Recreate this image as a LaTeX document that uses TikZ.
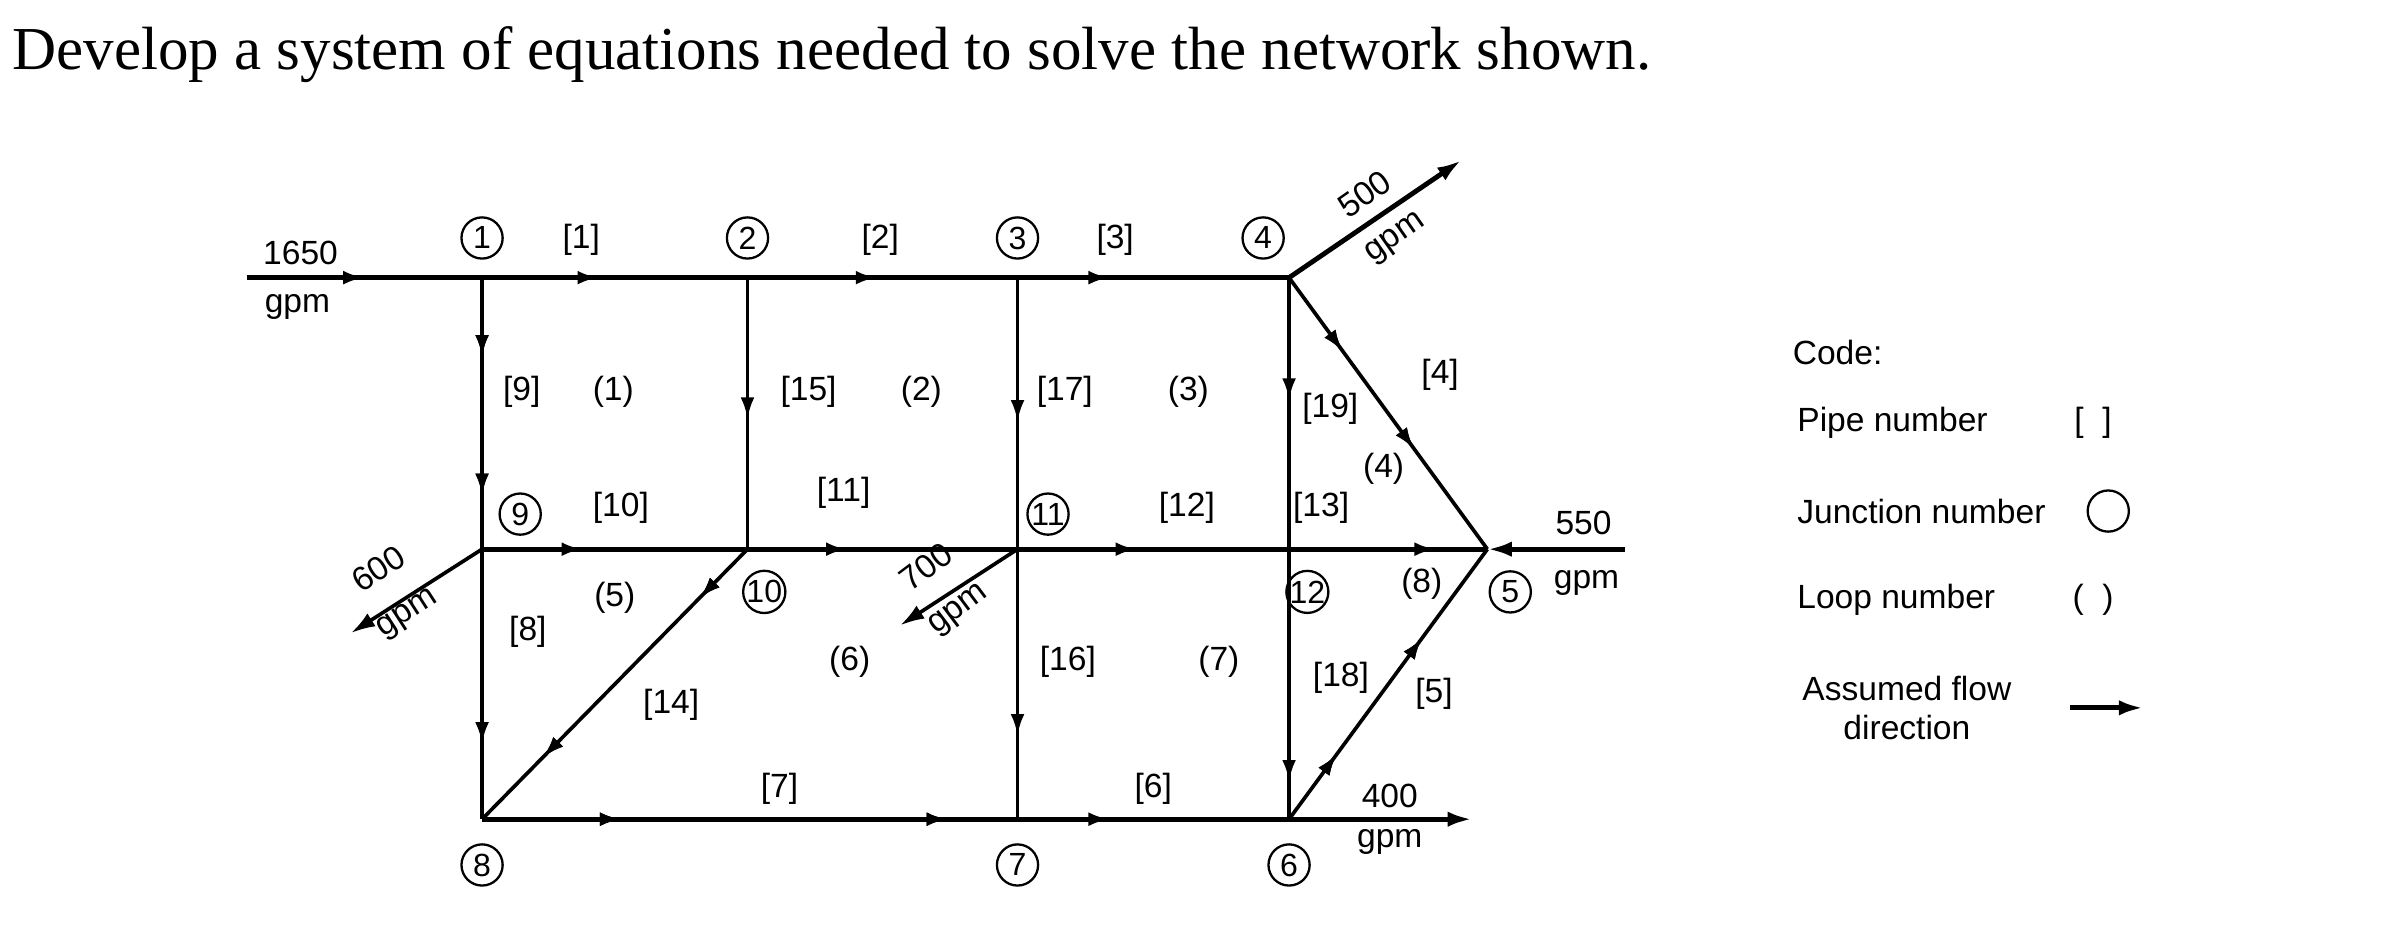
\documentclass[tikz,border=0pt]{standalone}
\usepackage{fontspec}
\setmainfont{Liberation Sans}
\newfontfamily\titlefont{Liberation Serif}
\usetikzlibrary{arrows.meta,decorations.markings}
\begin{document}
\begin{tikzpicture}[x=1pt,y=-1pt,
  pipe/.style={line width=3.2pt},
  thin pipe/.style={line width=2.4pt},
  ar/.style={postaction={decorate},decoration={markings,mark=at position #1 with {\arrow{Latex[length=14pt,width=9pt]}}}},
  jn/.style={circle,draw,line width=1.5pt,minimum size=27pt,inner sep=0pt,font=\fontsize{21}{21}\selectfont},
  lb/.style={font=\fontsize{22}{22}\selectfont,inner sep=0pt},
  tip/.style={-{Latex[length=16pt,width=10pt]}}]
\useasboundingbox (0,0) rectangle (1568,623);
\node[anchor=west,inner sep=0pt,font=\titlefont\fontsize{40}{40}\selectfont] (title) at (8,36) {Develop a system of equations needed to solve the network shown.};
% junction coordinates
\coordinate (in) at (162,182);
\coordinate (J1) at (316,182);
\coordinate (J2) at (490,182);
\coordinate (J3) at (667,182);
\coordinate (J4) at (845,182);
\coordinate (J9) at (316,360);
\coordinate (J10) at (490,360);
\coordinate (J11) at (667,360);
\coordinate (J12) at (845,360);
\coordinate (J5) at (975,360);
\coordinate (J8) at (316,537);
\coordinate (J7) at (667,537);
\coordinate (J6) at (845,537);
\coordinate (o500) at (958,105);
\coordinate (i550) at (1065,360);
\coordinate (o400) at (965,537);
\coordinate (o600) at (230,415);
\coordinate (o700) at (590,410);
% pipes
\draw[pipe,ar=0.5] (in) -- (J1);
\draw[pipe,ar=0.44] (J1) -- (J2);
\draw[pipe,ar=0.48] (J2) -- (J3);
\draw[pipe,ar=0.34] (J3) -- (J4);
\draw[thin pipe,ar=0.29,ar=0.8] (J1) -- (J9);
\draw[thin pipe,ar=0.52] (J2) -- (J10);
\draw[thin pipe,ar=0.53] (J3) -- (J11);
\draw[thin pipe,ar=0.45] (J4) -- (J12);
\draw[thin pipe,ar=0.27,ar=0.63] (J4) -- (J5);
\draw[pipe,ar=0.38] (J9) -- (J10);
\draw[pipe,ar=0.37] (J10) -- (J11);
\draw[pipe,ar=0.44] (J11) -- (J12);
\draw[pipe,ar=0.74] (J12) -- (J5);
\draw[pipe,tip] (i550) -- (J5);
\draw[thin pipe,ar=0.72] (J9) -- (J8);
\draw[thin pipe,ar=0.86] (J12) -- (J6);
\draw[thin pipe,ar=0.69] (J11) -- (J7);
\draw[thin pipe,ar=0.18,ar=0.77] (J10) -- (J8);
\draw[thin pipe,ar=0.24,ar=0.67] (J6) -- (J5);
\draw[pipe,ar=0.26,ar=0.87] (J8) -- (J7);
\draw[pipe,ar=0.34] (J7) -- (J6);
\draw[pipe,tip] (J6) -- (o400);
\draw[pipe,tip] (J4) -- (o500);
\draw[thin pipe,tip] (J9) -- (o600);
\draw[thin pipe,tip] (J11) -- (o700);
% junction labels
\node[jn] (n1) at (316,156) {1};
\node[jn] (n2) at (490,156) {2};
\node[jn] (n3) at (667,156) {3};
\node[jn] (n4) at (828,156) {4};
\node[jn] (n9) at (341,337) {9};
\node[jn] (n10) at (501,388) {10};
\node[jn] (n11) at (687,337) {11};
\node[jn] (n12) at (857,388) {12};
\node[jn] (n5) at (990,388) {5};
\node[jn] (n8) at (316,567) {8};
\node[jn] (n7) at (667,567) {7};
\node[jn] (n6) at (845,567) {6};
% pipe and loop labels
\node[lb] (p1) at (381,157) {[1]};
\node[lb] (p2) at (577,157) {[2]};
\node[lb] (p3) at (731,157) {[3]};
\node[lb] (p9) at (342,257) {[9]};
\node[lb] (l1) at (402,257) {(1)};
\node[lb] (p15) at (530,257) {[15]};
\node[lb] (l2) at (604,257) {(2)};
\node[lb] (p17) at (698,257) {[17]};
\node[lb] (l3) at (779,257) {(3)};
\node[lb] (p19) at (872,268) {[19]};
\node[lb] (p4) at (944,246) {[4]};
\node[lb] (l4) at (907,307) {(4)};
\node[lb] (p10) at (407,333) {[10]};
\node[lb] (p11) at (553,323) {[11]};
\node[lb] (p12) at (778,333) {[12]};
\node[lb] (p13) at (866,333) {[13]};
\node[lb] (l5) at (403,392) {(5)};
\node[lb] (p8) at (346,414) {[8]};
\node[lb] (p14) at (440,462) {[14]};
\node[lb] (l6) at (557,434) {(6)};
\node[lb] (p16) at (700,434) {[16]};
\node[lb] (l7) at (799,434) {(7)};
\node[lb] (p18) at (879,444) {[18]};
\node[lb] (p5) at (940,455) {[5]};
\node[lb] (l8) at (932,383) {(8)};
\node[lb] (p7) at (511,517) {[7]};
\node[lb] (p6) at (756,517) {[6]};
% flow labels
\node[lb] (f1650) at (197,166) {1650};
\node[lb] (g1650) at (195,201) {gpm};
\node[lb] (f550) at (1038,343) {550};
\node[lb] (g550) at (1040,382) {gpm};
\node[lb] (f400) at (911,522) {400};
\node[lb] (g400) at (911,552) {gpm};
\node[lb,rotate=35,align=center] (f500) at (905,142) {500\\[10pt]gpm};
\node[lb,rotate=33,align=center] (f600) at (258,388) {600\\[10pt]gpm};
\node[lb,rotate=37,align=center] (f700) at (618,386) {700\\[10pt]gpm};
% code legend
\node[lb,anchor=west] (code) at (1175,231) {Code:};
\node[lb,anchor=west] (pn) at (1178,277) {Pipe number};
\node[lb] (pns) at (1372,277) {[~~]};
\node[lb,anchor=west] (jnn) at (1178,335) {Junction number};
\node[jn] (jns) at (1382,335) {};
\node[lb,anchor=west] (lpn) at (1178,393) {Loop number};
\node[lb] (lps) at (1372,393) {(~~)};
\node[lb,align=center] (afd) at (1250,464) {Assumed flow\\[4pt]direction};
\coordinate (a1) at (1357,464);
\coordinate (a2) at (1405,464);
\draw[pipe,tip] (a1) -- (a2);
\end{tikzpicture}
\end{document}
